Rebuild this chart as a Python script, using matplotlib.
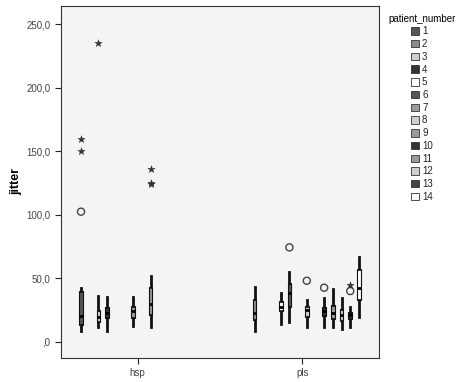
import matplotlib
matplotlib.use("Agg")
import matplotlib.pyplot as plt
from matplotlib.patches import Patch

plt.rcParams['font.family'] = ['Liberation Sans', 'DejaVu Sans']

categories = ["hsp", "pls"]
patients = list(range(1, 15))
patient_colors = ["#555555", "#8a8a8a", "#cfcfcf", "#333333", "#ffffff",
                  "#555555", "#9a9a9a", "#cfcfcf", "#9a9a9a", "#333333",
                  "#9a9a9a", "#cfcfcf", "#444444", "#ffffff"]

# box stats per patient: (group, patient, whislo, q1, med, q3, whishi)
box_group = ["hsp", "hsp", "hsp", "hsp", "hsp",
             "pls", "pls", "pls", "pls", "pls", "pls", "pls", "pls", "pls"]
box_patient = [1, 3, 4, 7, 9, 2, 5, 6, 8, 10, 11, 12, 13, 14]
whislo = [8.4, 11.3, 8.7, 12.4, 11.8, 8.7, 13.7, 15.8, 11.8, 11.8, 11.8, 10.0, 11.8, 19.2]
q1 = [13.2, 15.8, 18.4, 18.9, 21.3, 17.1, 24.4, 27.1, 19.7, 20.2, 17.6, 16.5, 17.6, 32.8]
med = [20.2, 19.7, 22.9, 24.4, 29.7, 22.9, 27.1, 38.6, 25.0, 23.9, 22.4, 21.0, 21.0, 42.0]
q3 = [40.2, 25.0, 27.6, 28.1, 42.8, 33.6, 32.3, 46.0, 28.1, 27.1, 28.9, 25.8, 23.6, 57.0]
whishi = [42.5, 36.0, 35.5, 35.0, 52.0, 42.8, 38.1, 55.1, 32.8, 34.7, 41.3, 34.2, 27.1, 66.5]

# outliers (circles) and extremes (stars)
circle_group = ["hsp", "pls", "pls", "pls", "pls"]
circle_patient = [1, 6, 8, 10, 13]
circle_value = [102.4, 74.3, 48.0, 42.5, 39.9]
star_group = ["hsp", "hsp", "hsp", "hsp", "hsp", "hsp", "pls"]
star_patient = [1, 1, 3, 9, 9, 9, 13]
star_value = [159.4, 150.4, 235.0, 136.3, 125.0, 124.3, 44.7]

y_ticks = [0, 50, 100, 150, 200, 250]
y_ticklabels = [",0", "50,0", "100,0", "150,0", "200,0", "250,0"]

slot_w = 0.0527


def xpos(group, patient):
    return categories.index(group) + (patient - 1 - 6.5) * slot_w


fig = plt.figure(figsize=(4.74, 3.82), dpi=100)
ax = fig.add_axes([0.1287, 0.0636, 0.6715, 0.9207])
ax.set_facecolor("#f4f4f4")

stats = []
positions = []
for i in range(len(box_patient)):
    stats.append(dict(whislo=whislo[i], q1=q1[i], med=med[i], q3=q3[i],
                      whishi=whishi[i], fliers=[]))
    positions.append(xpos(box_group[i], box_patient[i]))

bp = ax.bxp(stats, positions=positions, widths=0.022, patch_artist=True,
            showcaps=False, showfliers=False,
            boxprops=dict(edgecolor="#111111", linewidth=0.8),
            whiskerprops=dict(color="#111111", linewidth=2.0),
            medianprops=dict(color="#000000", linewidth=2.0))
for patch, p in zip(bp["boxes"], box_patient):
    patch.set_facecolor(patient_colors[p - 1])

cx = [xpos(g, p) for g, p in zip(circle_group, circle_patient)]
ax.scatter(cx, circle_value, s=26, facecolors="none", edgecolors="#444444",
           linewidths=1.0, zorder=5)
sx = [xpos(g, p) for g, p in zip(star_group, star_patient)]
ax.scatter(sx, star_value, s=30, marker="*", color="#333333", linewidths=0.3,
           zorder=5)

ax.set_xlim(-0.464, 1.466)
ax.set_ylim(-12.6, 264.4)
ax.set_xticks(range(len(categories)))
ax.set_xticklabels(categories)
ax.set_yticks(y_ticks)
ax.set_yticklabels(y_ticklabels)
ax.tick_params(axis="both", labelsize=7, colors="#222222", labelcolor="#444444",
               length=4, width=0.8)
for s in ax.spines.values():
    s.set_color("#333333")
    s.set_linewidth(0.8)
ax.set_ylabel("jitter", fontsize=9, fontweight="bold", labelpad=3)

handles = [Patch(facecolor=c, edgecolor="#333333", linewidth=0.6) for c in patient_colors]
leg = fig.legend(handles, [str(p) for p in patients], title="patient_number",
                 loc="upper left", bbox_to_anchor=(0.805, 0.982), frameon=False,
                 fontsize=7, title_fontsize=7, handlelength=0.8, handleheight=0.8,
                 handletextpad=0.3, labelspacing=0.28, borderpad=0.2)
leg._legend_box.align = "center"
for t in leg.get_texts():
    t.set_color("#222222")

fig.savefig("out.png", dpi=100, facecolor="white")
